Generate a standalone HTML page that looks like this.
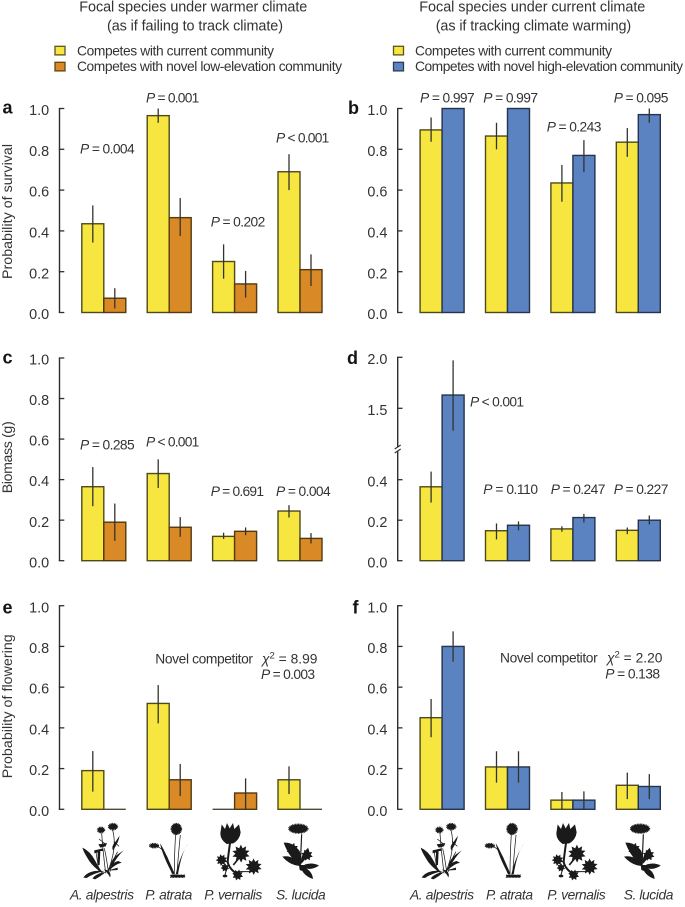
<!DOCTYPE html>
<html lang="en">
<head>
<meta charset="utf-8">
<title>Competition and climate bar charts</title>
<style>
html,body{margin:0;padding:0;background:#fff;}
svg{display:block;filter:blur(0.3px);}
text{font-family:"Liberation Sans",Arial,sans-serif;fill:#333;font-size:13.8px;}
.t{font-size:14.4px;}
.y{font-size:14.2px;}
.i{font-style:italic;}
.pl{font-weight:bold;font-size:18px;fill:#141414;}
</style>
</head>
<body>
<svg id="fig" xmlns="http://www.w3.org/2000/svg" width="685" height="907" viewBox="0 0 685 907">
  <g>
    <text class="t" x="79.3" y="11.5" textLength="228">Focal species under warmer climate</text>
    <text class="t" x="107" y="30.5" textLength="176">(as if failing to track climate)</text>
    <rect x="55" y="46.3" width="10" height="8.6" fill="#f7e63f" stroke="#5a5320" stroke-width="1.3"/>
    <text x="77" y="55.5" textLength="197">Competes with current community</text>
    <rect x="55" y="62.3" width="10" height="8.6" fill="#d98a26" stroke="#5f4312" stroke-width="1.3"/>
    <text x="77" y="71.2" textLength="265">Competes with novel low-elevation community</text>
  </g>
  <g>
    <text class="t" x="419.3" y="11.5" textLength="226">Focal species under current climate</text>
    <text class="t" x="435.7" y="30.5" textLength="195.5">(as if tracking climate warming)</text>
    <rect x="393.5" y="46.3" width="10" height="8.6" fill="#f7e63f" stroke="#5a5320" stroke-width="1.3"/>
    <text x="415" y="55.5" textLength="197">Competes with current community</text>
    <rect x="393.5" y="62.3" width="10" height="8.6" fill="#5b83c2" stroke="#2e3b55" stroke-width="1.3"/>
    <text x="415" y="71.2" textLength="268">Competes with novel high-elevation community</text>
  </g>

  <g id="marks"></g>
  <g id="plants"></g>

  <g>
    <text class="pl" x="2.5" y="113.5">a</text>
    <text class="pl" x="348" y="114">b</text>
    <text class="pl" x="2.5" y="363.5">c</text>
    <text class="pl" x="347" y="364">d</text>
    <text class="pl" x="2.5" y="613.5">e</text>
    <text class="pl" x="352.5" y="613.5">f</text>
  </g>

  <g>
    <text class="y" transform="translate(12,279) rotate(-90)" textLength="135">Probability of survival</text>
    <text class="y" transform="translate(12,493.3) rotate(-90)" textLength="72">Biomass (g)</text>
    <text class="y" transform="translate(12,778.3) rotate(-90)" textLength="144">Probability of flowering</text>
  </g>

  <g>
    <text x="80" y="153.3" textLength="54.7"><tspan class="i">P</tspan> = 0.004</text>
    <text x="146" y="102.3" textLength="53.3"><tspan class="i">P</tspan> = 0.001</text>
    <text x="210.7" y="226.7" textLength="54.6"><tspan class="i">P</tspan> = 0.202</text>
    <text x="276" y="142.3" textLength="53.3"><tspan class="i">P</tspan> &lt; 0.001</text>
  </g>
  <g>
    <text x="420" y="102.3" textLength="54.7"><tspan class="i">P</tspan> = 0.997</text>
    <text x="483.3" y="102.3" textLength="54.7"><tspan class="i">P</tspan> = 0.997</text>
    <text x="546.7" y="131.3" textLength="54.7"><tspan class="i">P</tspan> = 0.243</text>
    <text x="613.7" y="102.3" textLength="54.7"><tspan class="i">P</tspan> = 0.095</text>
  </g>
  <g>
    <text x="80" y="449.3" textLength="54.7"><tspan class="i">P</tspan> = 0.285</text>
    <text x="146" y="446.7" textLength="53.3"><tspan class="i">P</tspan> &lt; 0.001</text>
    <text x="210.7" y="496" textLength="53.3"><tspan class="i">P</tspan> = 0.691</text>
    <text x="276" y="496" textLength="54.7"><tspan class="i">P</tspan> = 0.004</text>
  </g>
  <g>
    <text x="470" y="406.7" textLength="54"><tspan class="i">P</tspan> &lt; 0.001</text>
    <text x="483.3" y="494" textLength="54.7"><tspan class="i">P</tspan> = 0.110</text>
    <text x="550.7" y="494" textLength="54.7"><tspan class="i">P</tspan> = 0.247</text>
    <text x="613.7" y="494" textLength="54.7"><tspan class="i">P</tspan> = 0.227</text>
  </g>
  <g>
    <text x="155.3" y="663.3" textLength="97.7">Novel competitor</text>
    <text x="262" y="663.3"><tspan class="i">χ</tspan><tspan font-size="9.5" dy="-5">2</tspan><tspan dy="5"> = 8.99</tspan></text>
    <text x="261" y="679" textLength="54"><tspan class="i">P</tspan> = 0.003</text>
  </g>
  <g>
    <text x="500" y="662.3" textLength="97.7">Novel competitor</text>
    <text x="607" y="662.3"><tspan class="i">χ</tspan><tspan font-size="9.5" dy="-5">2</tspan><tspan dy="5"> = 2.20</tspan></text>
    <text x="605.3" y="678.3" textLength="54.7"><tspan class="i">P</tspan> = 0.138</text>
  </g>

  <g>
    <text class="i" x="70" y="899.3" textLength="64">A. alpestris</text>
    <text class="i" x="145.3" y="899.3" textLength="47">P. atrata</text>
    <text class="i" x="204.3" y="899.3" textLength="58">P. vernalis</text>
    <text class="i" x="276" y="899.3" textLength="49.7">S. lucida</text>
  </g>
  <g>
    <text class="i" x="410" y="899.3" textLength="64">A. alpestris</text>
    <text class="i" x="486" y="899.3" textLength="47">P. atrata</text>
    <text class="i" x="547.3" y="899.3" textLength="58.4">P. vernalis</text>
    <text class="i" x="623.7" y="899.3" textLength="49.7">S. lucida</text>
  </g>
</svg>

<script>
// ---- chart data ----
const categories = ["A. alpestris", "P. atrata", "P. vernalis", "S. lucida"];
const ticksUnit = ["0.0", "0.2", "0.4", "0.6", "0.8", "1.0"];
const ticksD = ["0.0", "0.2", "0.4", "1.5", "2.0"];

const aCurrent = [0.435, 0.965, 0.25, 0.69];
const aCurrentHi = [0.525, 1.0, 0.334, 0.776];
const aCurrentLo = [0.343, 0.93, 0.166, 0.60];
const aNovel = [0.07, 0.465, 0.14, 0.21];
const aNovelHi = [0.119, 0.561, 0.204, 0.285];
const aNovelLo = [0.02, 0.375, 0.073, 0.13];

const bCurrent = [0.895, 0.865, 0.635, 0.835];
const bCurrentHi = [0.956, 0.93, 0.723, 0.904];
const bCurrentLo = [0.837, 0.80, 0.543, 0.763];
const bNovel = [1.0, 1.0, 0.77, 0.97];
const bNovelHi = [null, null, 0.845, 1.0];
const bNovelLo = [null, null, 0.688, 0.93];

const cCurrent = [0.365, 0.43, 0.12, 0.245];
const cCurrentHi = [0.462, 0.50, 0.138, 0.274];
const cCurrentLo = [0.269, 0.359, 0.107, 0.213];
const cNovel = [0.19, 0.165, 0.145, 0.11];
const cNovelHi = [0.282, 0.215, 0.164, 0.136];
const cNovelLo = [0.098, 0.118, 0.126, 0.085];

const dCurrent = [0.365, 0.148, 0.157, 0.15];
const dCurrentHi = [0.44, 0.184, 0.17, 0.164];
const dCurrentLo = [0.287, 0.105, 0.143, 0.131];
const dNovel = [1.63, 0.175, 0.213, 0.20];
const dNovelHi = [1.97, 0.194, 0.231, 0.223];
const dNovelLo = [1.28, 0.15, 0.189, 0.179];

const eCurrent = [0.19, 0.52, 0, 0.145];
const eCurrentHi = [0.286, 0.61, null, 0.211];
const eCurrentLo = [0.087, 0.422, null, 0.075];
const eNovel = [0, 0.145, 0.08, 0];
const eNovelHi = [null, 0.223, 0.152, null];
const eNovelLo = [null, 0.065, 0, null];

const fCurrent = [0.45, 0.208, 0.045, 0.118];
const fCurrentHi = [0.542, 0.285, 0.085, 0.18];
const fCurrentLo = [0.354, 0.131, 0, 0.05];
const fNovel = [0.80, 0.208, 0.045, 0.112];
const fNovelHi = [0.874, 0.285, 0.088, 0.173];
const fNovelLo = [0.725, 0.131, 0, 0.05];

// ---- drawing ----
const NS = "http://www.w3.org/2000/svg";
const marks = document.getElementById("marks");
const YEL = "#f7e63f", YEL_E = "#4f4a1c";
const ORG = "#d98a26", ORG_E = "#523a10";
const BLU = "#5b83c2", BLU_E = "#27334c";
const AXIS = "#2e2e2e";
const BAR_W = 22, PITCH = 65.4;

function make(tag, parent) {
  const n = document.createElementNS(NS, tag);
  parent.appendChild(n);
  return n;
}
function linearY(y0, yTop) {
  return v => y0 - v * (y0 - yTop);
}
function brokenY(v) {
  return v <= 0.6 ? 560.7 - v * 202.5 : 408.3 - (v - 1.5) * 102;
}

function drawAxis(id, parent, axisX, y, ticks, topY, hasBreak) {
  const g = make("g", parent);
  
  
  const segs = hasBreak ? [[topY, 447], [451, y(0)]] : [[topY, y(0)]];
  segs.forEach(s => {
    const l = make("line", g);
    
    
    l.setAttribute("x1", axisX); l.setAttribute("x2", axisX);
    l.setAttribute("y1", s[0]); l.setAttribute("y2", s[1]);
    l.setAttribute("stroke", AXIS); l.setAttribute("stroke-width", "1.4");
  });
  if (hasBreak) {
    [447, 451].forEach(by => {
      const m = make("line", g);
      
      
      m.setAttribute("x1", axisX - 3); m.setAttribute("x2", axisX + 3);
      m.setAttribute("y1", by + 2); m.setAttribute("y2", by - 2);
      m.setAttribute("stroke", AXIS); m.setAttribute("stroke-width", "1.1");
    });
  }
  ticks.forEach(label => {
    const yy = y(parseFloat(label));
    const t = make("line", g);
    
    
    t.setAttribute("x1", axisX - 0.7); t.setAttribute("x2", axisX + 4.8);
    t.setAttribute("y1", yy); t.setAttribute("y2", yy);
    t.setAttribute("stroke", AXIS); t.setAttribute("stroke-width", "1.3");
    const tx = make("text", g);
    
    
    tx.setAttribute("x", axisX - 10.3);
    tx.setAttribute("y", yy + 6.6);
    tx.setAttribute("text-anchor", "end");
    tx.setAttribute("style", "font-size:14.4px");
    tx.textContent = label;
  });
}

function drawBar(id, parent, x, val, hi, lo, y, fill, edge) {
  const base = y(0);
  const top = y(val);
  const g = make("g", parent);
  
  
  if (val > 0) {
    const r = make("rect", g);
    
    
    r.setAttribute("x", x); r.setAttribute("y", top);
    r.setAttribute("width", BAR_W); r.setAttribute("height", base - top);
    r.setAttribute("fill", fill); r.setAttribute("stroke", edge);
    r.setAttribute("stroke-width", "1.4");
  } else {
    const z = make("line", g);
    
    
    z.setAttribute("x1", x); z.setAttribute("x2", x + BAR_W);
    z.setAttribute("y1", base); z.setAttribute("y2", base);
    z.setAttribute("stroke", "#4a4a3a"); z.setAttribute("stroke-width", "1.3");
  }
  if (hi !== null && lo !== null) {
    const e = make("line", g);
    
    
    e.setAttribute("x1", x + BAR_W / 2); e.setAttribute("x2", x + BAR_W / 2);
    e.setAttribute("y1", y(hi)); e.setAttribute("y2", y(lo));
    e.setAttribute("stroke", "#33332e"); e.setAttribute("stroke-width", "1.3");
  }
}

function drawPanel(id, axisX, firstX, y, ticks, topY, hasBreak, cur, curHi, curLo, nov, novHi, novLo, novFill, novEdge) {
  const g = make("g", marks);
  
  
  drawAxis(id, g, axisX, y, ticks, topY, hasBreak);
  categories.forEach((c, i) => {
    const gx = firstX + i * PITCH;
    drawBar(id + "-current-" + (i + 1), g, gx, cur[i], curHi[i], curLo[i], y, YEL, YEL_E);
    drawBar(id + "-novel-" + (i + 1), g, gx + BAR_W, nov[i], novHi[i], novLo[i], y, novFill, novEdge);
  });
}

const yRow1 = linearY(312.5, 108.5);
const yRow2 = linearY(560.7, 358);
const yRow3 = linearY(809.3, 605.7);
drawPanel("a", 59.5, 81.8, yRow1, ticksUnit, 108.5, false, aCurrent, aCurrentHi, aCurrentLo, aNovel, aNovelHi, aNovelLo, ORG, ORG_E);
drawPanel("b", 397.7, 420.1, yRow1, ticksUnit, 108.5, false, bCurrent, bCurrentHi, bCurrentLo, bNovel, bNovelHi, bNovelLo, BLU, BLU_E);
drawPanel("c", 59.5, 81.8, yRow2, ticksUnit, 358, false, cCurrent, cCurrentHi, cCurrentLo, cNovel, cNovelHi, cNovelLo, ORG, ORG_E);
drawPanel("d", 397.7, 420.1, brokenY, ticksD, 357.3, true, dCurrent, dCurrentHi, dCurrentLo, dNovel, dNovelHi, dNovelLo, BLU, BLU_E);
drawPanel("e", 59.5, 81.8, yRow3, ticksUnit, 605.7, false, eCurrent, eCurrentHi, eCurrentLo, eNovel, eNovelHi, eNovelLo, ORG, ORG_E);
drawPanel("f", 397.7, 420.1, yRow3, ticksUnit, 605.7, false, fCurrent, fCurrentHi, fCurrentLo, fNovel, fNovelHi, fNovelLo, BLU, BLU_E);

// ---- plant silhouettes (decorative) ----
function star(cx, cy, r, n) {
  let p = "";
  for (let k = 0; k < n * 2; k++) {
    const a = Math.PI * k / n + 0.3;
    const rr = k % 2 ? r * 0.62 : r;
    p += (k ? "L" : "M") + (cx + rr * Math.cos(a)).toFixed(1) + " " + (cy + rr * Math.sin(a)).toFixed(1);
  }
  return '<path d="' + p + 'Z"/>';
}
const fuzzy = 'stroke="#1a1a1a" stroke-width="5" stroke-dasharray="2.5 2"';
const plantArt = {
  alpestris:
    '<g fill="none" stroke="#1a1a1a" stroke-width="2.2"><path d="M80 55Q84 110 92 175M113 45Q128 100 96 175M62 105L72 170M105 170Q115 130 128 110M72 72L92 88M118 80L132 94M100 170Q95 130 88 100"/></g>' +
    '<path d="M22 98Q45 108 60 136Q75 165 88 178Q52 156 38 130Q26 112 22 98Z"/>' +
    '<path d="M58 106L84 100L84 108L76 108L74 150L68 150L68 112L58 115Z"/>' +
    '<path d="M134 62Q130 85 114 106Q108 94 120 82Z"/>' +
    '<path d="M146 106Q126 124 106 162Q103 138 128 118Z"/>' +
    '<path d="M140 143Q120 148 98 170Q108 143 130 138Z"/>' +
    '<path d="M70 88L96 84L92 94L76 98Z"/>' +
    '<path d="M25 188Q40 163 90 168Q55 175 35 189Z"/>' +
    '<path d="M52 190Q65 174 92 171Q76 185 60 193Z"/>' +
    '<path d="M105 187Q100 175 86 163L100 166Q110 178 105 187Z"/>' +
    '<path d="M128 158L98 167L128 165Z"/>' +
    '<ellipse cx="78" cy="45" rx="10" ry="8" ' + fuzzy + '/>' +
    '<ellipse cx="114" cy="35" rx="13" ry="9" ' + fuzzy + '/>',
  atrata:
    '<g fill="none" stroke="#1a1a1a" stroke-width="2.2"><path d="M302 55Q298 120 298 175M316 60Q310 120 306 175M245 95Q272 98 292 175"/></g>' +
    '<path d="M255 85Q264 95 300 178L293 178Q264 125 255 85Z"/>' +
    '<path d="M340 85Q320 110 309 178L302 178Q316 120 340 85Z"/>' +
    '<path d="M275 120Q285 150 296 175L290 175Z"/>' +
    '<rect x="287" y="180" width="42" height="7" ' + fuzzy.replace('stroke-width="5"','stroke-width="3"') + '/>' +
    '<ellipse cx="304" cy="42" rx="15" ry="16" ' + fuzzy + '/>' +
    '<ellipse cx="237" cy="92" rx="13" ry="6" ' + fuzzy + '/>',
  vernalis:
    '<path d="M46 55L50 28L60 42L66 24L74 40L84 24L88 42L102 28L107 52Q104 74 85 85L65 87Q46 74 46 55Z"/>' +
    '<g fill="none" stroke="#1a1a1a" stroke-width="6"><path d="M75 84Q70 120 68 140Q72 165 108 184"/><path d="M68 150L60 180" stroke-width="3"/><path d="M100 170L150 170" stroke-width="3"/><path d="M85 150L108 122" stroke-width="5"/><path d="M66 140L48 135" stroke-width="4"/></g>' +
    star(108, 116, 27, 10) + star(50, 135, 18, 9) + star(146, 155, 25, 10) + star(98, 180, 17, 8) + star(60, 158, 13, 7) +
    '<ellipse cx="60" cy="183" rx="7" ry="4"/>',
  lucida:
    '<ellipse cx="280" cy="41" rx="28" ry="13" ' + fuzzy + '/>' +
    '<path d="M290 58L286 150" fill="none" stroke="#1a1a1a" stroke-width="3.5"/>' +
    '<path d="M236 83Q262 80 284 108Q292 135 285 152Q252 128 236 83Z"/>' +
    '<path d="M310 98Q312 125 288 147Q285 120 310 98Z"/>' + star(306, 120, 18, 8) +
    '<path d="M232 125Q265 118 287 153Q255 152 232 125Z"/>' +
    '<path d="M342 152Q315 138 288 155Q315 170 342 152Z"/>' +
    '<path d="M324 192Q322 163 286 153Q293 182 324 192Z"/>' +
    star(262, 102, 19, 8) + '<path d="M282 150L296 150L292 168L284 165Z"/>'
};
function placePlant(name, side, ox, oy) {
  const g = make("g", document.getElementById("plants"));
  
  
  g.setAttribute("fill", "#1a1a1a");
  g.setAttribute("transform", "translate(" + ox + "," + oy + ") scale(0.3333)");
  g.innerHTML = plantArt[name];
}
placePlant("alpestris", "left", 75, 815);
placePlant("atrata", "left", 75, 815);
placePlant("vernalis", "left", 205, 815);
placePlant("lucida", "left", 205, 815);
placePlant("alpestris", "right", 413.3, 815);
placePlant("atrata", "right", 410.7, 815);
placePlant("vernalis", "right", 541, 815);
placePlant("lucida", "right", 546.7, 815);
</script>
</body>
</html>
